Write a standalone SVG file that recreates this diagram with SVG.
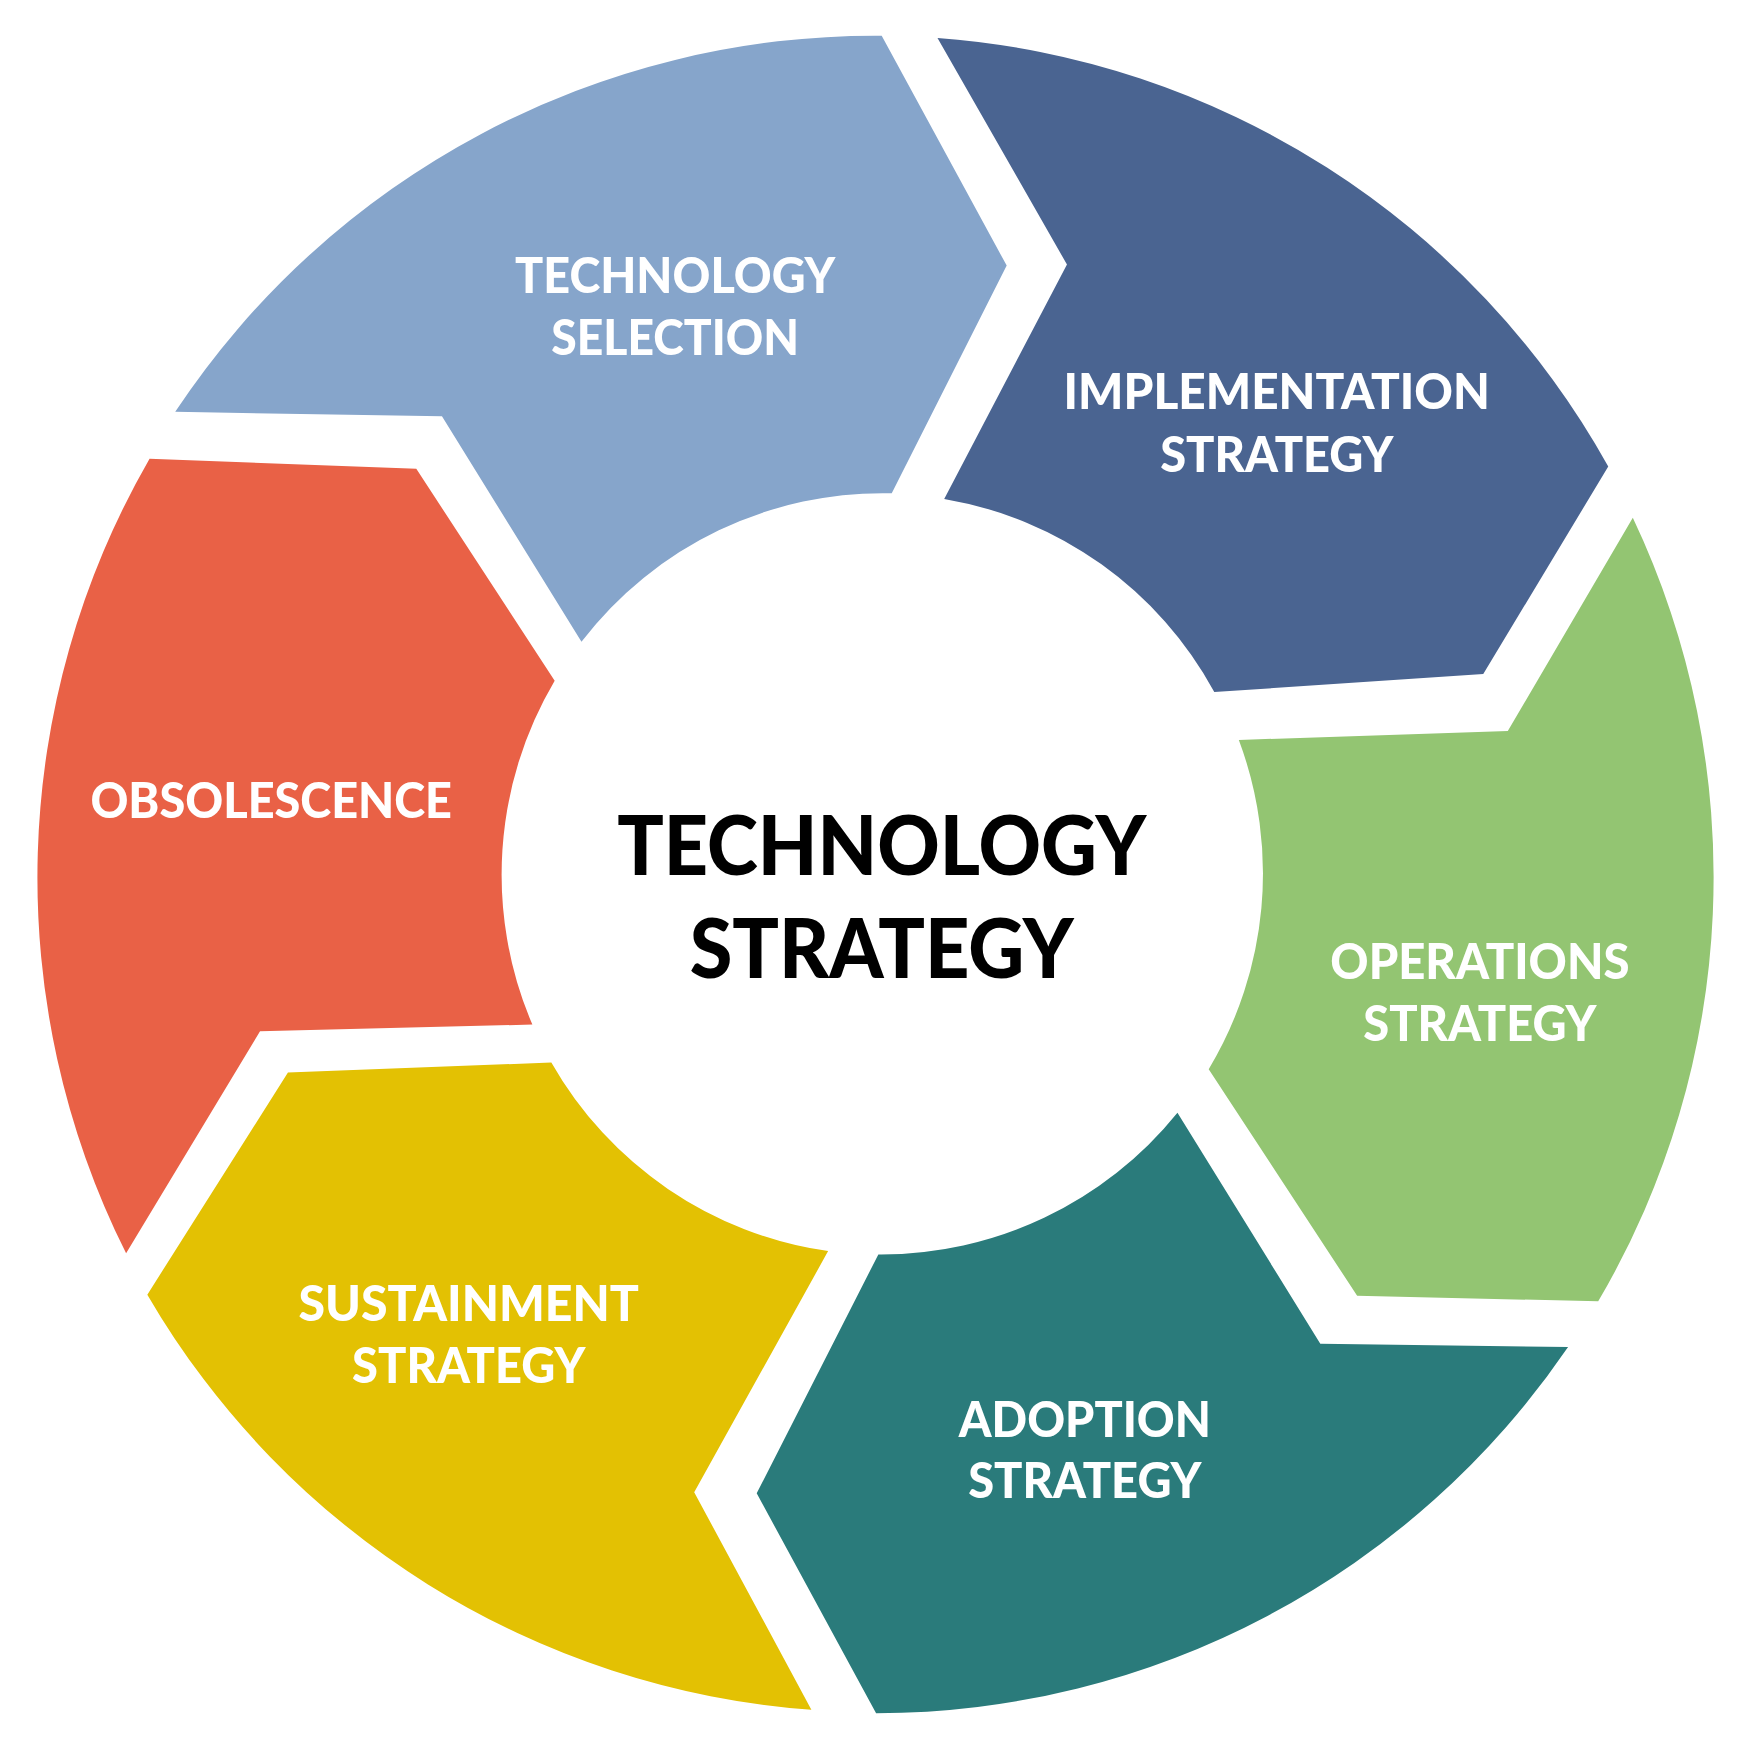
<svg xmlns="http://www.w3.org/2000/svg" width="1750" height="1750" viewBox="0 0 1750 1750">
<style>
.lbl{font-family:Lato,"Open Sans","Liberation Sans",sans-serif;font-weight:900;font-size:45px;fill:#ffffff;text-anchor:middle}
.title{font-family:Lato,"Open Sans","Liberation Sans",sans-serif;font-weight:900;font-size:73px;fill:#000000;text-anchor:middle}
</style>
<rect width="1750" height="1750" fill="#ffffff"/>
<g transform="scale(1.11607)">
<g id="technology-selection">
<path fill="#86A5CB" d="M790,32 L902,238 L799,442 A340,340 0 0 0 521,575 L396,373 L157,369 A752,752 0 0 1 790,32 Z"/>
<text class="lbl" x="605" y="262.5" textLength="287" lengthAdjust="spacingAndGlyphs">TECHNOLOGY</text>
<text class="lbl" x="605" y="318" textLength="222" lengthAdjust="spacingAndGlyphs">SELECTION</text>
</g>
<g id="implementation-strategy">
<path fill="#4A6491" d="M840,34 L956,237 L846,447 A340,340 0 0 1 1088,620 L1329,604 L1441,418 A751,751 0 0 0 840,34 Z"/>
<text class="lbl" x="1144" y="366.5" textLength="382" lengthAdjust="spacingAndGlyphs">IMPLEMENTATION</text>
<text class="lbl" x="1144" y="422.5" textLength="209" lengthAdjust="spacingAndGlyphs">STRATEGY</text>
</g>
<g id="operations-strategy">
<path fill="#93C572" d="M1463,464 L1351,655 L1110,663 A341,341 0 0 1 1083,958 L1216,1161 L1432,1166 A751,751 0 0 0 1463,464 Z"/>
<text class="lbl" x="1326" y="877.5" textLength="268" lengthAdjust="spacingAndGlyphs">OPERATIONS</text>
<text class="lbl" x="1326" y="933" textLength="209" lengthAdjust="spacingAndGlyphs">STRATEGY</text>
</g>
<g id="adoption-strategy">
<path fill="#2A7B7B" d="M1055,997 L1183,1204 L1405,1207 A751,751 0 0 1 785,1535 L678,1338 L787,1124 A341,341 0 0 0 1055,997 Z"/>
<text class="lbl" x="972" y="1287.5" textLength="226" lengthAdjust="spacingAndGlyphs">ADOPTION</text>
<text class="lbl" x="972" y="1342.5" textLength="209" lengthAdjust="spacingAndGlyphs">STRATEGY</text>
</g>
<g id="sustainment-strategy">
<path fill="#E3C103" d="M742,1121 L622,1337 L727,1532 A752,752 0 0 1 132,1160 L258,961 L494,952 A341,341 0 0 0 742,1121 Z"/>
<text class="lbl" x="420" y="1184" textLength="305" lengthAdjust="spacingAndGlyphs">SUSTAINMENT</text>
<text class="lbl" x="420" y="1239" textLength="209" lengthAdjust="spacingAndGlyphs">STRATEGY</text>
</g>
<g id="obsolescence">
<path fill="#E96146" d="M134,411 L373,420 L497,610 A341,341 0 0 0 477,918 L233,924 L113,1123 A752,752 0 0 1 134,411 Z"/>
<text class="lbl" x="243" y="733" textLength="324" lengthAdjust="spacingAndGlyphs">OBSOLESCENCE</text>
</g>
<g id="technology-strategy">
<text class="title" x="790" y="784" textLength="474" lengthAdjust="spacingAndGlyphs">TECHNOLOGY</text>
<text class="title" x="790" y="876" textLength="344" lengthAdjust="spacingAndGlyphs">STRATEGY</text>
</g>
</g>
<g id="connectors"></g>
</svg>
